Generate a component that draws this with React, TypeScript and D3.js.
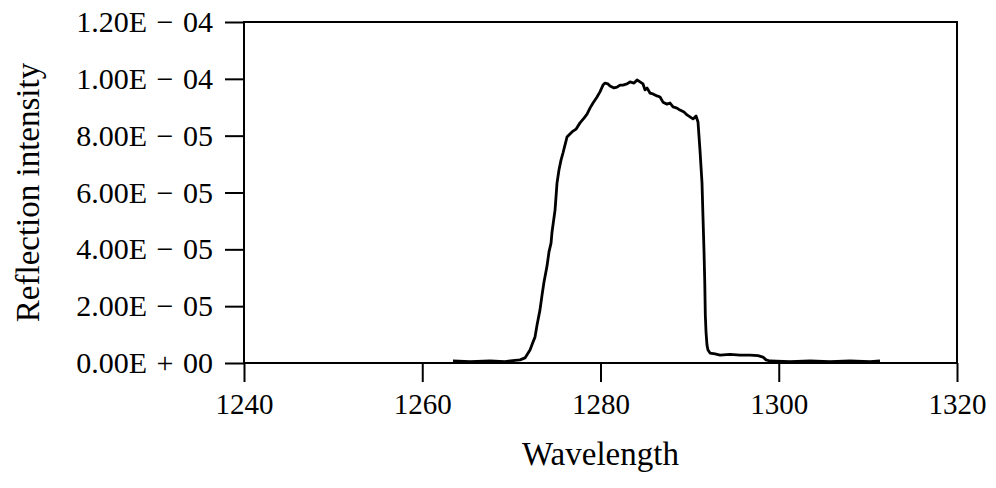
import React, { useEffect, useRef } from 'react';
import * as d3 from 'd3';

// spectrum (wavelength, intensity in units of 1e-5)
const wavelength = [
  1263.45, 1265.36, 1267.6, 1269.28, 1270.41, 1270.97, 1271.53, 1272.09, 1272.43, 1272.65,
  1272.88, 1273.21, 1273.44, 1273.66, 1274.0, 1274.22, 1274.45, 1274.56, 1274.9, 1275.12,
  1275.34, 1275.57, 1275.79, 1276.24, 1276.8, 1277.25, 1277.7, 1278.15, 1278.49, 1278.82,
  1279.16, 1279.61, 1279.94, 1280.28, 1280.51, 1280.84, 1281.07, 1281.52, 1281.85, 1282.19,
  1282.52, 1282.97, 1283.31, 1283.76, 1284.1, 1284.43, 1284.77, 1284.99, 1285.22, 1285.55,
  1285.89, 1286.34, 1286.68, 1287.01, 1287.46, 1287.8, 1288.14, 1288.58, 1288.92, 1289.37,
  1289.71, 1290.04, 1290.38, 1290.72, 1290.94, 1291.16, 1291.39, 1291.5, 1291.61, 1291.7,
  1291.76, 1291.84, 1291.95, 1292.06, 1292.29, 1292.85, 1293.41, 1294.53, 1295.65, 1296.77,
  1297.67, 1298.23, 1298.57, 1299.02, 1301.26, 1303.51, 1305.75, 1307.99, 1310.24, 1311.36,
];
const intensityE5 = [
  0.07, 0.05, 0.07, 0.05, 0.09, 0.11, 0.18, 0.46, 0.74, 0.91,
  1.34, 1.87, 2.39, 2.85, 3.41, 3.91, 4.22, 4.61, 5.38, 6.33,
  6.79, 7.14, 7.39, 7.95, 8.13, 8.23, 8.45, 8.62, 8.76, 8.97,
  9.15, 9.36, 9.54, 9.78, 9.85, 9.82, 9.75, 9.68, 9.71, 9.78,
  9.78, 9.82, 9.89, 9.85, 9.96, 9.89, 9.82, 9.61, 9.68, 9.5,
  9.47, 9.4, 9.36, 9.18, 9.11, 9.15, 9.01, 8.97, 8.9, 8.83,
  8.73, 8.66, 8.59, 8.69, 8.48, 7.5, 6.33, 5.14, 3.98, 2.82,
  1.69, 1.09, 0.63, 0.46, 0.35, 0.32, 0.28, 0.3, 0.28, 0.28,
  0.26, 0.21, 0.11, 0.07, 0.05, 0.07, 0.05, 0.07, 0.05, 0.07,
];

const xTicks = [1240, 1260, 1280, 1300, 1320];
const yTicks = [0, 2e-5, 4e-5, 6e-5, 8e-5, 1e-4, 1.2e-4];
const yTickLabels = [
  '0.00E + 00', '2.00E \u2212 05', '4.00E \u2212 05', '6.00E \u2212 05',
  '8.00E \u2212 05', '1.00E \u2212 04', '1.20E \u2212 04',
];

const App: React.FC = () => {
  const svgRef = useRef<SVGSVGElement>(null);

  useEffect(() => {
    if (!svgRef.current) return;
    const svg = d3.select(svgRef.current);
    svg.selectAll('*').remove();

    const margin = { top: 22, right: 39, bottom: 125, left: 244 };
    const width = 996;
    const height = 488;
    const font = '"Liberation Serif", "Times New Roman", serif';

    const x = d3.scaleLinear().domain([1240, 1320]).range([margin.left, width - margin.right]);
    const y = d3.scaleLinear().domain([0, 1.2e-4]).range([height - margin.bottom, margin.top]);

    const data = wavelength.map((w, i) => ({ w, v: intensityE5[i] * 1e-5 }));

    const xAxis = svg.append('g')
      .attr('transform', `translate(0,${height - margin.bottom})`)
      .call(d3.axisBottom(x).tickValues(xTicks).tickSize(19).tickSizeOuter(0).tickPadding(11)
        .tickFormat(d3.format('d')));
    xAxis.select('.domain').remove();
    xAxis.selectAll('line').attr('stroke', '#000').attr('stroke-width', 2);
    xAxis.selectAll('text')
      .attr('font-family', font).attr('font-size', 29).attr('fill', '#000');

    const yAxis = svg.append('g')
      .attr('transform', `translate(${margin.left},0)`)
      .call(d3.axisLeft(y).tickValues(yTicks).tickSize(19).tickSizeOuter(0).tickPadding(12)
        .tickFormat((_, i) => yTickLabels[i]));
    yAxis.select('.domain').remove();
    yAxis.selectAll('line').attr('stroke', '#000').attr('stroke-width', 2);
    yAxis.selectAll('text')
      .attr('font-family', font).attr('font-size', 30).attr('fill', '#000')
      .attr('word-spacing', 2);

    // frame
    svg.append('rect')
      .attr('x', margin.left)
      .attr('y', margin.top)
      .attr('width', width - margin.left - margin.right)
      .attr('height', height - margin.top - margin.bottom)
      .attr('fill', 'none')
      .attr('stroke', '#000')
      .attr('stroke-width', 2);

    const line = d3.line<{ w: number; v: number }>()
      .x(d => x(d.w))
      .y(d => y(d.v));

    svg.append('path')
      .datum(data)
      .attr('fill', 'none')
      .attr('stroke', '#000')
      .attr('stroke-width', 2.8)
      .attr('stroke-linejoin', 'round')
      .attr('d', line);

    svg.append('text')
      .attr('x', (margin.left + width - margin.right) / 2)
      .attr('y', 465)
      .attr('text-anchor', 'middle')
      .attr('font-family', font)
      .attr('font-size', 33)
      .text('Wavelength');

    svg.append('text')
      .attr('transform', `translate(39,${(margin.top + height - margin.bottom) / 2}) rotate(-90)`)
      .attr('text-anchor', 'middle')
      .attr('font-family', font)
      .attr('font-size', 33)
      .text('Reflection intensity');
  }, []);

  return (
    <svg
      ref={svgRef}
      width={996}
      height={488}
      style={{ position: 'absolute', left: 0, top: 0, background: '#fff' }}
    />
  );
};

export default App;
